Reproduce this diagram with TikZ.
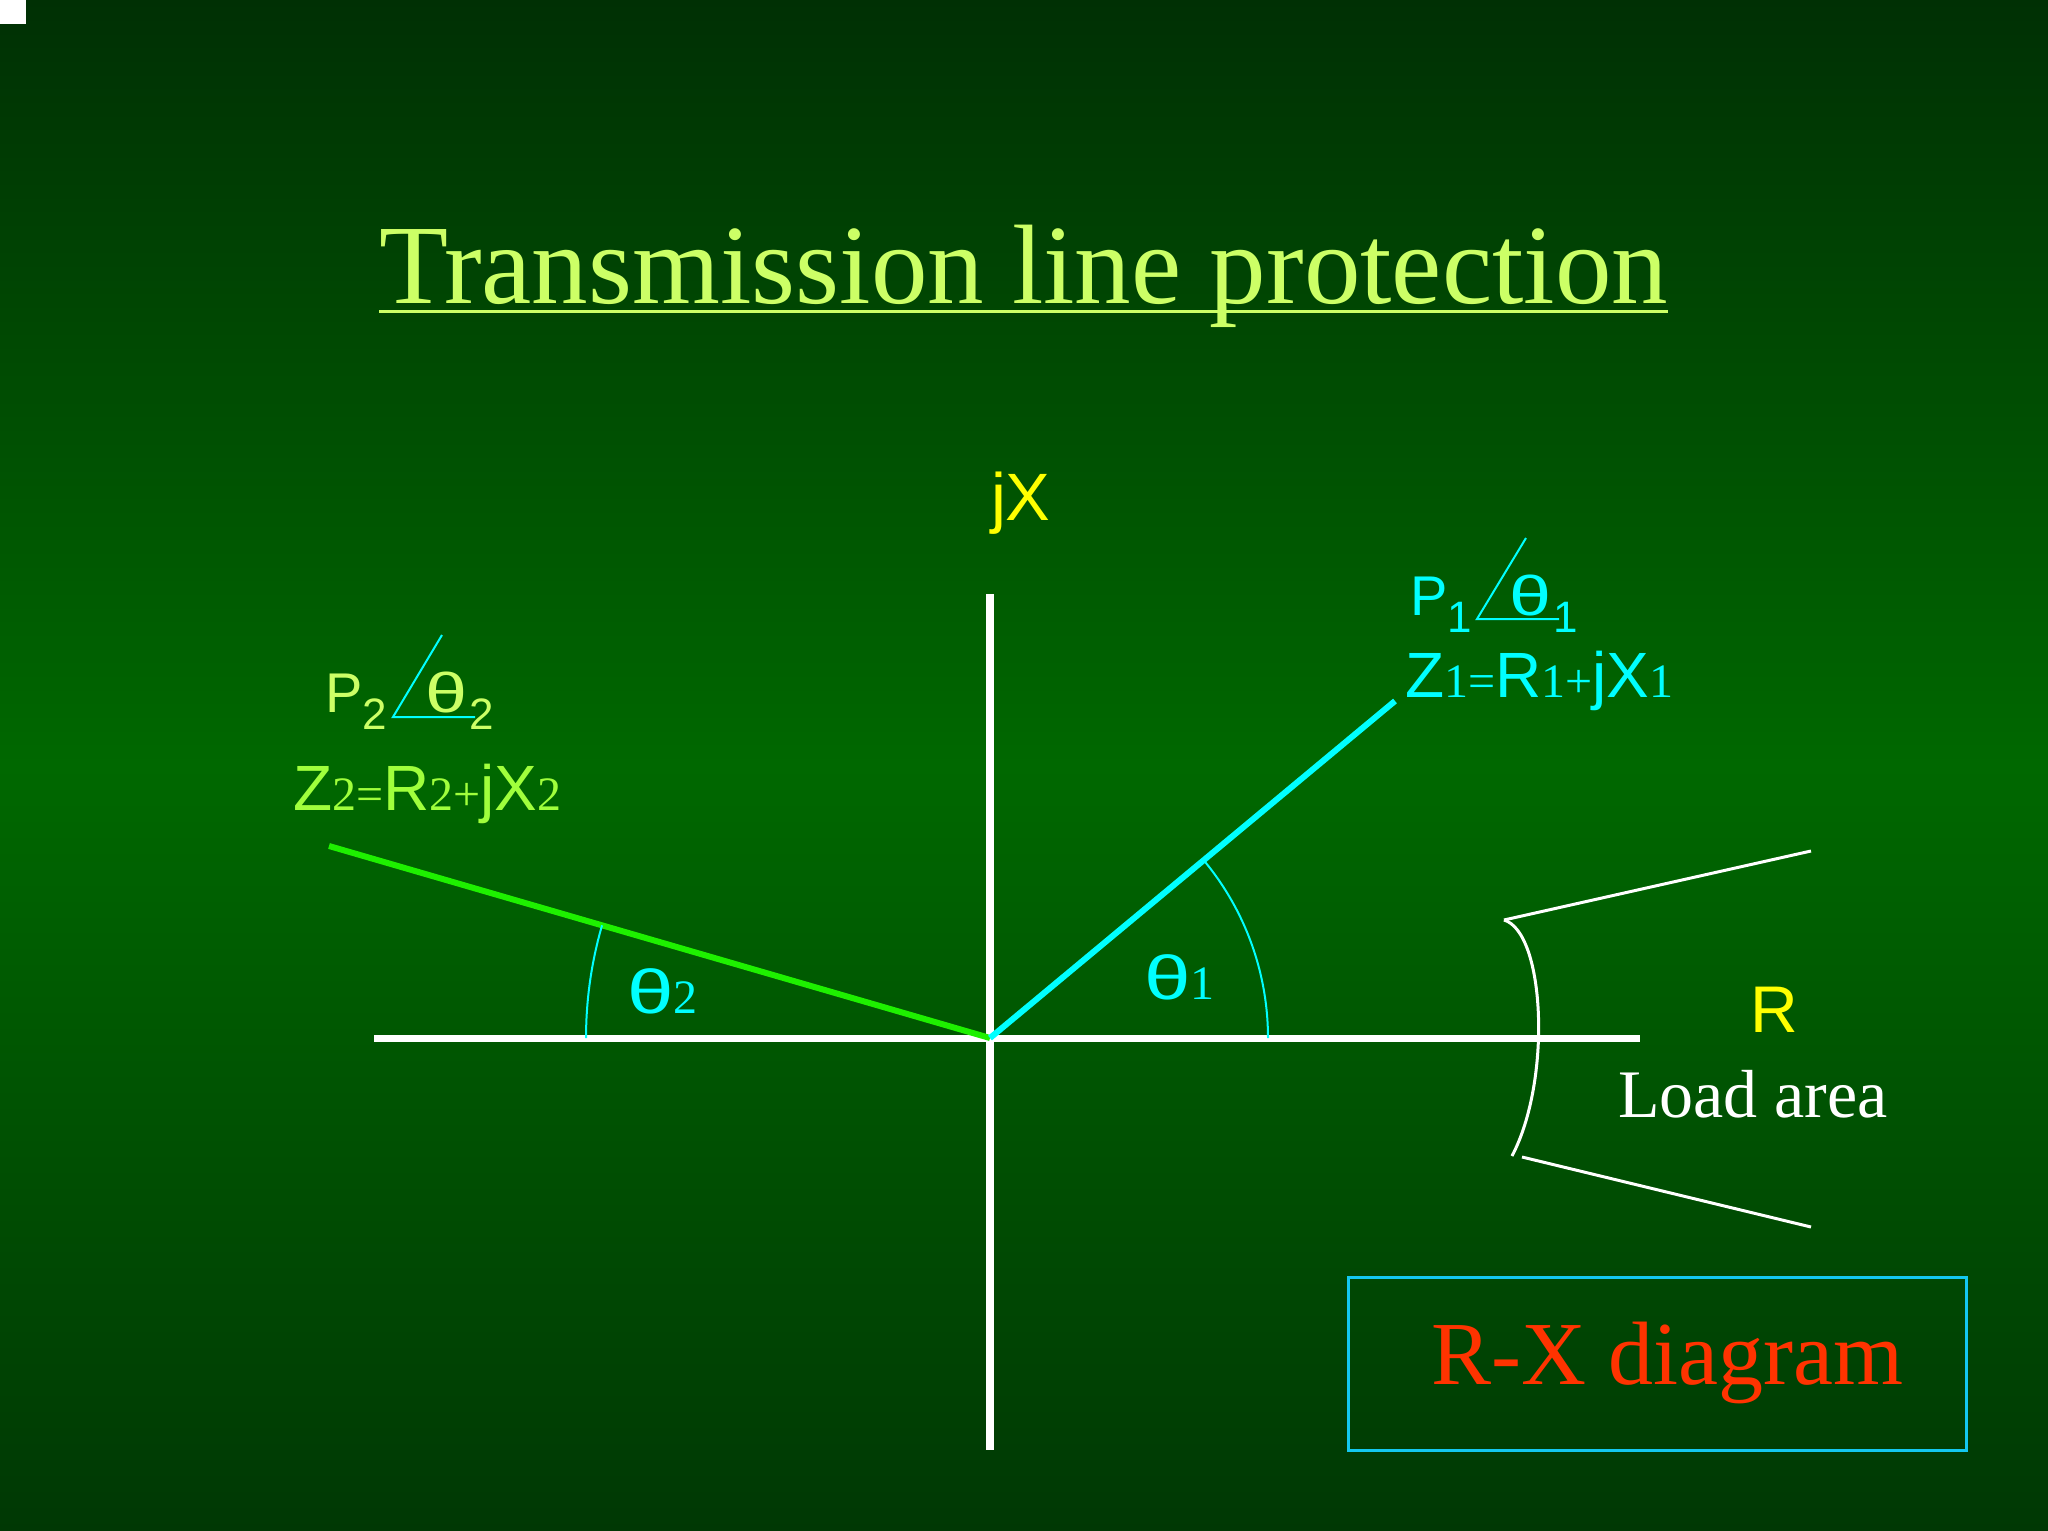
\documentclass[tikz,border=0pt]{standalone}
\usepackage{fontspec}
\setmainfont{Liberation Serif}
\newfontfamily\arialf{Liberation Sans}
\definecolor{bgtop}{RGB}{0,48,4}
\definecolor{bgmid}{RGB}{0,104,0}
\definecolor{bgbot}{RGB}{0,56,4}
\definecolor{titlec}{RGB}{204,255,102}
\definecolor{ptwoc}{RGB}{204,255,102}
\definecolor{ztwoc}{RGB}{160,255,60}
\definecolor{cyanc}{RGB}{0,255,255}
\definecolor{greenl}{RGB}{30,240,0}
\definecolor{yelc}{RGB}{255,255,0}
\definecolor{redc}{RGB}{255,51,0}
\definecolor{boxc}{RGB}{20,200,240}
\newcommand{\subtm}[1]{{\rmfamily\fontsize{48}{50}\selectfont #1}}
\newcommand{\subsf}[1]{\raisebox{-17pt}{\fontsize{44}{46}\selectfont #1}}
\newcommand{\widetheta}{\scalebox{1.35}[1]{θ}}
\begin{document}
\begin{tikzpicture}[x=1pt,y=-1pt,
  txt/.style={inner sep=0pt, outer sep=0pt, anchor=base west},
  axisline/.style={white, line width=7pt},
  thinc/.style={cyanc, line width=2pt},
  loadline/.style={white, line width=3pt}]
\useasboundingbox (0,0) rectangle (2048,1531);
\shade[top color=bgtop, bottom color=bgbot, middle color=bgmid] (0,0) rectangle (2048,1531);
\fill[white] (0,0) rectangle (26,24);
% title
\node[txt, text=titlec, font=\fontsize{113}{120}\selectfont] (title) at (379,303) {Transmission line protection};
\draw[titlec, line width=3pt] ([yshift=-8pt]title.base west) -- ([yshift=-8pt]title.base east);
% axes
\coordinate (O) at (990,1038);
\coordinate (Xl) at (374,1038);
\coordinate (Xr) at (1640,1038);
\coordinate (Yt) at (990,594);
\coordinate (Yb) at (990,1450);
\draw[axisline] (Xl) -- (Xr);
\draw[axisline, line width=8pt] (Yt) -- (Yb);
% impedance lines
\coordinate (Z1e) at (1395,701);
\coordinate (Z2e) at (329,846);
\draw[greenl, line width=6pt] (O) -- (Z2e);
\draw[cyanc, line width=6pt] (O) -- (Z1e);
% angle arcs
\draw[thinc] plot[domain=0:39.8, samples=40] ({990+278*cos(\x)},{1038-278*sin(\x)});
\draw[thinc] plot[domain=163.8:180, samples=30] ({990+404*cos(\x)},{1038-404*sin(\x)});
% axis labels
\node[txt, text=yelc, font=\arialf\fontsize{67}{69}\selectfont] (jx) at (991,520) {jX};
\node[txt, text=yelc, font=\arialf\fontsize{66}{68}\selectfont] (rl) at (1750,1032) {R};
% theta labels
\node[txt, text=cyanc, font=\arialf\fontsize{62}{64}\selectfont] (th1) at (1144,999) {\widetheta\subtm{1}};
\node[txt, text=cyanc, font=\arialf\fontsize{62}{64}\selectfont] (th2) at (627,1013) {\widetheta\subtm{2}};
% P1 label
\node[txt, text=cyanc, font=\arialf\fontsize{56}{60}\selectfont] (p1) at (1410,615) {P\subsf{1}};
\node[txt, text=cyanc, font=\arialf\fontsize{56}{60}\selectfont] (t1) at (1509,615) {\widetheta\hspace{2pt}\subsf{1}};
\coordinate (a1h) at (1559,619);
\coordinate (a1c) at (1477,619);
\coordinate (a1d) at (1526,538);
\draw[thinc] (a1h) -- (a1c) -- (a1d);
\node[txt, text=cyanc, font=\arialf\fontsize{64}{66}\selectfont] (z1) at (1405,697) {Z\subtm{1=}R\subtm{1+}jX\subtm{1}};
% P2 label
\node[txt, text=ptwoc, font=\arialf\fontsize{56}{60}\selectfont] (p2) at (325,712) {P\subsf{2}};
\node[txt, text=ptwoc, font=\arialf\fontsize{56}{60}\selectfont] (t2) at (425,712) {\widetheta\hspace{2pt}\subsf{2}};
\coordinate (a2h) at (475,717);
\coordinate (a2c) at (393,717);
\coordinate (a2d) at (442,635);
\draw[thinc] (a2h) -- (a2c) -- (a2d);
\node[txt, text=ztwoc, font=\arialf\fontsize{64}{66}\selectfont] (z2) at (293,810) {Z\subtm{2=}R\subtm{2+}jX\subtm{2}};
% load area
\coordinate (la1) at (1504,920);
\coordinate (la2) at (1811,851);
\coordinate (lb1) at (1522,1157);
\coordinate (lb2) at (1811,1227);
\coordinate (lc) at (1512,1156);
\draw[loadline] (la2) -- (la1);
\draw[loadline] (la1) .. controls (1545,932) and (1552,1080) .. (lc);
\draw[loadline] (lb1) -- (lb2);
\node[txt, text=white, font=\fontsize{68}{70}\selectfont] (load) at (1618,1117) {Load area};
% R-X box
\node[draw=boxc, line width=3pt, minimum width=618pt, minimum height=173pt, inner sep=0pt] (box) at (1657,1363.5) {};
\node[txt, text=redc, font=\fontsize{90}{92}\selectfont] (rx) at (1431,1384) {R-X diagram};
\end{tikzpicture}
\end{document}
